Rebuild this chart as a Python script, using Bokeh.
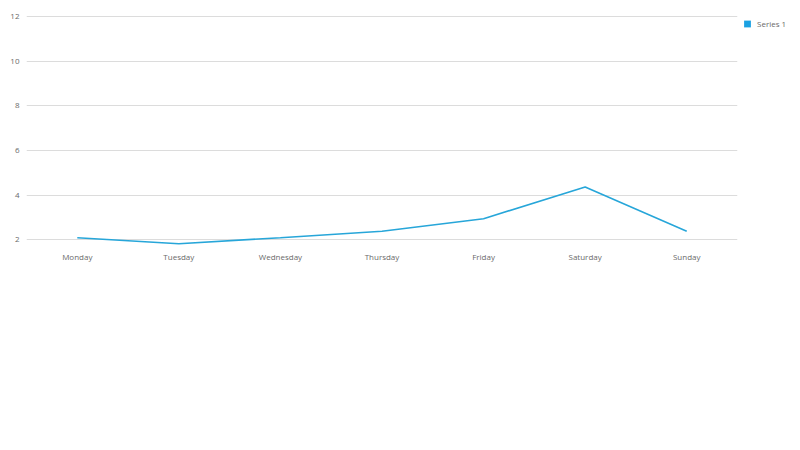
from bokeh.plotting import figure
from bokeh.models import Range1d, FactorRange, FixedTicker, Legend, LegendItem, ColumnDataSource
from bokeh.embed import file_html
from bokeh.resources import INLINE

days = ["Monday", "Tuesday", "Wednesday", "Thursday", "Friday", "Saturday", "Sunday"]
series1 = [2.1, 1.83, 2.1, 2.39, 2.95, 4.37, 2.39]
y_ticks = [2, 4, 6, 8, 10, 12]
series_name = "Series 1"

COLOR = "#27a6d9"
LEGEND_COLOR = "#1ba1e2"
TEXT = "#6a6a6a"
FONT = "Open Sans"

p = figure(x_range=FactorRange(*days, range_padding=0), y_range=Range1d(1.75, 12.05),
           frame_width=711, frame_height=230,
           min_border_left=26, min_border_top=15, min_border_bottom=8, min_border_right=0,
           output_backend="svg", toolbar_location=None)
p.outline_line_color = None

src = ColumnDataSource(dict(x=days, y=series1))
line = p.line("x", "y", source=src, line_color=COLOR, line_width=1.6)
# invisible markers on the chart (size 0); only used to draw the square legend swatch
marks = p.scatter("x", "y", source=src, marker="square", size=0,
                  fill_color=LEGEND_COLOR, line_color=None)

p.yaxis.ticker = FixedTicker(ticks=y_ticks)
for ax in (p.xaxis[0], p.yaxis[0]):
    ax.axis_line_color = None
    ax.major_tick_line_color = None
    ax.minor_tick_line_color = None
    ax.major_tick_out = 0
    ax.major_tick_in = 0
    ax.major_label_text_font = FONT
    ax.major_label_text_font_size = "8px"
    ax.major_label_text_color = TEXT
p.xaxis.major_label_standoff = 5
p.yaxis.major_label_standoff = 7

p.xgrid.grid_line_color = None
p.ygrid.grid_line_color = "#dcdcdc"
p.ygrid.grid_line_width = 1

legend = Legend(items=[LegendItem(label=series_name, renderers=[marks])],
                location="top_left", margin=0, padding=0, spacing=0,
                glyph_width=20, glyph_height=17, label_standoff=0,
                label_text_font=FONT, label_text_font_size="8px", label_text_color=TEXT,
                border_line_color=None, background_fill_alpha=0, label_height=17)
p.add_layout(legend, "right")

open("out.html", "w").write(file_html(p, INLINE))
